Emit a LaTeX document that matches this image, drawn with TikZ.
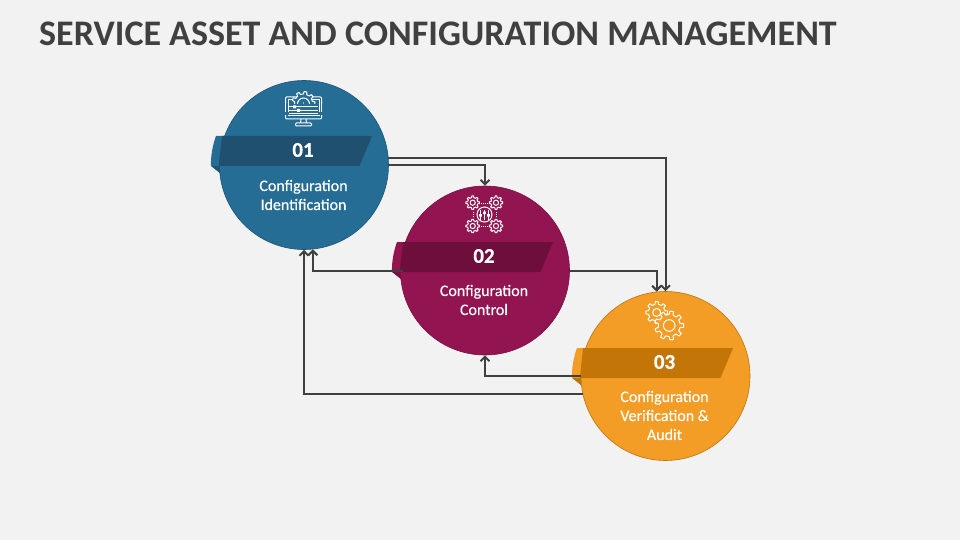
\documentclass[tikz,border=0pt]{standalone}
\usepackage{fontspec}
\setmainfont{Carlito}
\newfontfamily\capfont[FakeBold=0.35]{Carlito}
\newfontfamily\numfont[FakeBold=0.4]{Carlito Bold}
\usetikzlibrary{arrows.meta}
\definecolor{bg}{HTML}{F2F2F2}
\definecolor{ink}{HTML}{404040}
\definecolor{blueA}{HTML}{266D96}
\definecolor{blueB}{HTML}{1F506F}
\definecolor{blueC}{HTML}{1B5475}
\definecolor{redA}{HTML}{921450}
\definecolor{redB}{HTML}{6E0E3D}
\definecolor{redC}{HTML}{7A0F42}
\definecolor{orgA}{HTML}{F39C26}
\definecolor{orgB}{HTML}{C47508}
\definecolor{orgC}{HTML}{B9770F}
\tikzset{
  x=1pt,y=-1pt,
  disc/.style={circle,minimum size=169pt,inner sep=0pt,line width=.6pt},
  conn/.style={draw=ink,line width=2pt,-{Straight Barb[length=4.5pt,width=9pt,line width=2pt]}},
  numtext/.style={text=white,font=\numfont\fontsize{21}{22}\selectfont,inner sep=0pt},
  captext/.style={text=white,font=\capfont\fontsize{16}{19}\selectfont,align=center,inner sep=0pt},
  ico/.style={draw=white,line width=1pt},
  title/.style={text=ink,font=\fontsize{36}{38}\selectfont\bfseries,anchor=west,inner sep=0pt}
}
% \gearshape{cx}{cy}{outer}{root}{teeth}{hole}{fill}
\newcommand{\gearshape}[7]{%
  \begin{scope}[shift={(#1,#2)}]
    \pgfmathsetmacro{\stp}{360/#5}
    \pgfmathsetmacro{\wid}{\stp*0.17}
    \pgfmathsetmacro{\wod}{\stp*0.27}
    \pgfmathtruncatemacro{\lst}{#5-1}
    \path[ico,fill=#7,line join=round] (-\wod:#4)
      \foreach \k in {0,...,\lst}{
        -- ({\k*\stp-\wid}:#3) -- ({\k*\stp+\wid}:#3) -- ({\k*\stp+\wod}:#4) -- ({\k*\stp+\stp-\wod}:#4)
      } -- cycle;
    \draw[ico] (0,0) circle[radius=#6];
  \end{scope}}
\newcommand{\ribbontail}[3]{%
  \fill[#2] (#1-88,#3) -- (#1-72,#3) -- (#1-72,#3+30) -- (#1-93,#3+30) .. controls (#1-93.5,#3+20) and (#1-91,#3+8) .. (#1-88,#3) -- cycle;}
\newcommand{\ribbonfold}[3]{%
  \fill[#2] (#1-93,#3+30) -- (#1-84,#3+30) -- (#1-83,#3+38) -- cycle;}
\newcommand{\ribbonband}[3]{%
  \fill[#2] (#1-82,#3) -- (#1+68,#3) -- (#1+55.5,#3+30) -- (#1-85,#3+30) -- cycle;}
\begin{document}
\begin{tikzpicture}
\useasboundingbox (0,0) rectangle (960,540);
\fill[bg] (0,0) rectangle (960,540);
\node[title] (ttl) at (39,34) {SERVICE ASSET AND CONFIGURATION MANAGEMENT};

\ribbontail{304}{blueA}{136}
\ribbontail{485}{redA}{242}
\ribbontail{665}{orgA}{348}
\ribbonfold{304}{blueC}{136}
\ribbonfold{485}{redC}{242}
\ribbonfold{665}{orgC}{348}

\node[disc,fill=blueA,draw=blueC] (c1) at (304,165) {};
\node[disc,fill=redA,draw=redC] (c2) at (485,270.5) {};
\node[disc,fill=orgA,draw=orgC] (c3) at (665.5,376) {};

\ribbonband{304}{blueB}{136}
\ribbonband{485}{redB}{242}
\ribbonband{665}{orgB}{348}

\draw[conn] (c1.east) -| (c2.north);
\draw[conn] (c1.5) -| (c3.north);
\draw[conn] (c2.east) -| (c3.96);
\draw[conn,shorten <=-3pt] (c2.west) -| (c1.-84);
\draw[conn] (c3.west) -| (c2.south);
\draw[conn] (c3.192) -| (c1.south);

\node[numtext] (n1) at (303,150) {01};
\node[numtext] (n2) at (484,256) {02};
\node[numtext] (n3) at (664.5,362) {03};
\node[captext] (t1) at (303.5,195) {Configuration\\Identification};
\node[captext] (t2) at (484,300) {Configuration\\Control};
\node[captext] (t3) at (664.5,415.5) {Configuration\\Verification \&\\Audit};

% icon 1: monitor with gear
\draw[ico,rounded corners=1pt] (285.5,97) rectangle (321.5,119);
\draw[ico] (288,100) rectangle (319,115.5);
\gearshape{303.5}{103}{11.5}{9}{9}{0.01}{blueA}
\fill[blueA] (284,104.2) rectangle (323,114.6);
\draw[ico] (285.5,104) -- (285.5,112) (321.5,104) -- (321.5,112) (288,104) -- (288,112) (319,104) -- (319,112);
\draw[ico] (297.5,104) arc[start angle=180,end angle=360,radius=6,y=1pt] ;
\draw[ico] (289,107) -- (318,107) (289,110.5) -- (318,110.5) (289,113.5) -- (318,113.5);
\fill[white] (293,105.5) rectangle (296,108.5) (297,109) rectangle (300,112);
\draw[ico,line join=round] (301,119) -- (300.5,123) (306,119) -- (306.5,123);
\draw[ico,rounded corners=1pt] (295.5,123) rectangle (311.5,126);

% icon 2: four gears and dial
\draw[ico,densely dotted] (481,203) -- (488,203) (481,226) -- (488,226) (473,212) -- (473,217) (496,212) -- (496,217);
\gearshape{472.7}{202.7}{6.8}{5.2}{8}{2.6}{redA}
\gearshape{496}{202.7}{6.8}{5.2}{8}{2.6}{redA}
\gearshape{472.7}{226}{6.8}{5.2}{8}{2.6}{redA}
\gearshape{496}{226}{6.8}{5.2}{8}{2.6}{redA}
\draw[ico] (484.5,214.5) circle[radius=7.5];
\draw[ico] (480.5,209.5) -- (480.5,219.5) (484.5,209.5) -- (484.5,219.5) (488.5,209.5) -- (488.5,219.5);
\fill[white] (479.2,214) rectangle (481.8,216.5) (483.2,211.5) rectangle (485.8,214) (487.2,214) rectangle (489.8,216.5);

% icon 3: two gears
\gearshape{656.7}{312.5}{11}{8.4}{8}{4}{orgA}
\gearshape{669.2}{325.5}{14.5}{11}{9}{5.8}{orgA}
\end{tikzpicture}
\end{document}
